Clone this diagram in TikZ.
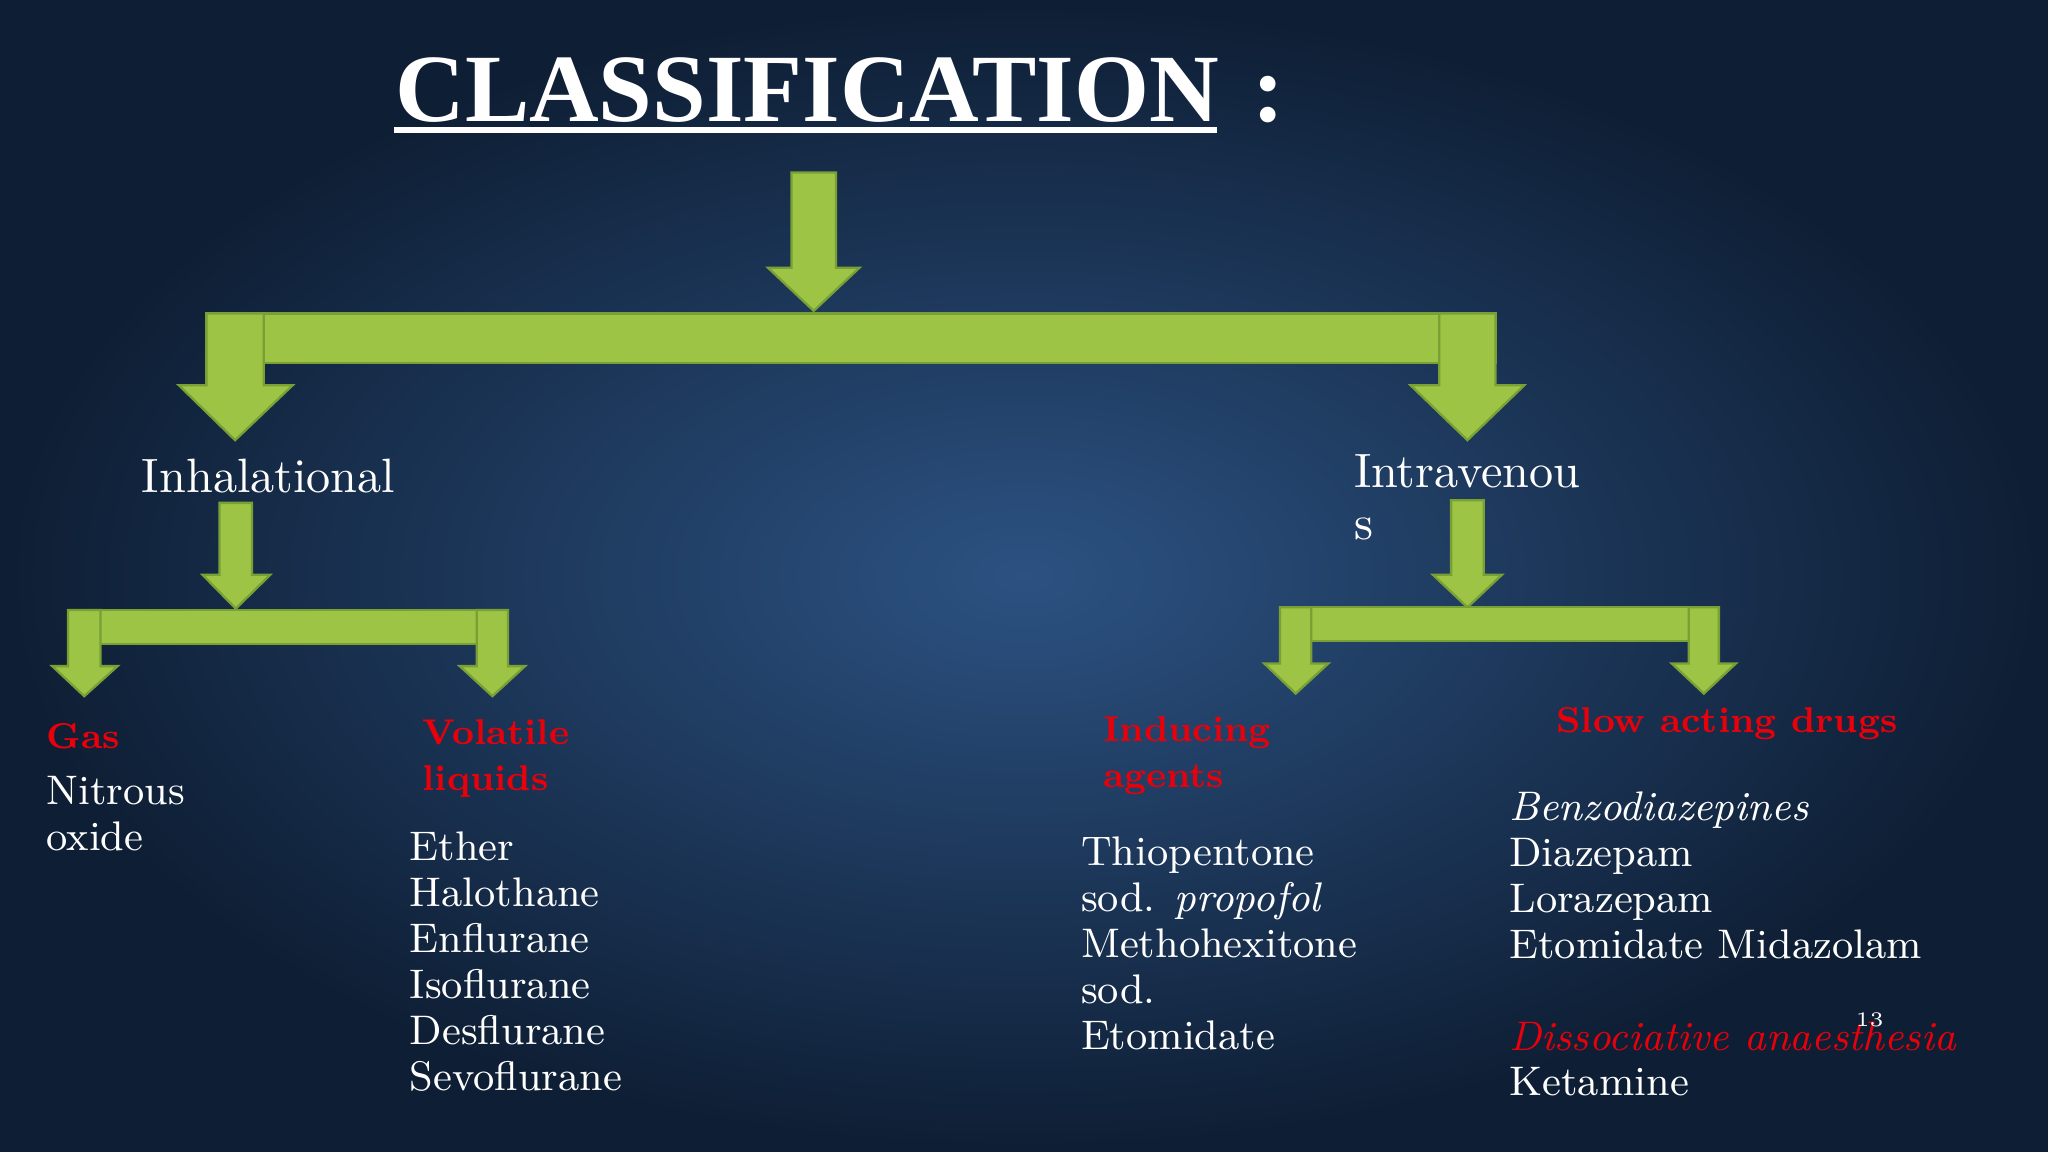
\documentclass[tikz,border=0pt]{standalone}
\usepackage{fontspec}
\newfontfamily\titlefont{Liberation Serif}
\definecolor{grn}{HTML}{9DC444}
\definecolor{grnd}{HTML}{78A035}
\definecolor{redt}{HTML}{E8000A}
\definecolor{bgin}{HTML}{2C5282}
\definecolor{bgout}{HTML}{0E1E34}
\newcommand\ml[1]{\parbox[t]{6cm}{\raggedright #1}}
\tikzset{arr/.style={fill=grn,draw=grnd,line width=0.5pt,line join=miter},
 txt/.style={anchor=base west,text=white,font=\fontsize{9}{10}\selectfont,inner sep=0pt},
 hd/.style={txt,text=redt,font=\fontsize{7.8}{10}\selectfont\bfseries}}
\newcommand\darr[7]{\draw[arr] (#1,#3) -- (#2,#3) -- (#2,#4) -- (#6,#4) -- ({(#1+#2)/2},#7) -- (#5,#4) -- (#1,#4) -- cycle;}
\begin{document}
\begin{tikzpicture}[x=0.01cm,y=-0.01cm]
\shade[inner color=bgin,outer color=bgout] (0,0) rectangle (1568,882);
\useasboundingbox (0,0) rectangle (1568,882);
\node[anchor=base west,inner sep=0pt,text=white,font=\titlefont\bfseries\fontsize{21}{22}\selectfont] (title) at (302,93) {CLASSIFICATION};
\node[anchor=base west,inner sep=0pt,text=white,font=\titlefont\bfseries\fontsize{21}{22}\selectfont] (colon) at (958,93) {:};
\fill[white] (302,97) rectangle (932,102);
% top arrows
\darr{606}{640}{132}{205}{588}{658}{238}
\draw[arr] (158,240) rectangle (1145,278);
\darr{158}{202}{240}{295}{137}{224}{337}
\darr{1102}{1145}{240}{295}{1080}{1167}{337}
% left
\node[txt,font=\fontsize{10.5}{12}\selectfont] (inh) at (108,377) {Inhalational};
\darr{168}{193}{385}{440}{155}{207}{466}
\draw[arr] (52,467) rectangle (389,493);
\darr{52}{77}{467}{510}{40}{90}{533}
\darr{365}{389}{467}{510}{352}{402}{533}
% right
\node[txt,font=\fontsize{10.5}{12}\selectfont] (iv1) at (1036,373) {Intravenou};
\node[txt,font=\fontsize{10.5}{12}\selectfont] (iv2) at (1036,413) {s};
\darr{1111}{1136}{383}{440}{1097}{1150}{465}
\draw[arr] (980,465) rectangle (1316,491);
\darr{980}{1004}{465}{508}{968}{1017}{531}
\darr{1293}{1316}{465}{508}{1280}{1329}{531}
% texts
\node[hd] (gas) at (35,573) {Gas};
\node[txt] (no) at (35,616) {\ml{Nitrous\\oxide}};
\node[hd] (vol) at (323,570) {\ml{Volatile\\liquids}};
\node[txt] (vl) at (313,659) {\ml{Ether\\Halothane\\Enflurane\\Isoflurane\\Desflurane\\Sevoflurane}};
\node[hd] (ind) at (844,568) {\ml{Inducing\\agents}};
\node[txt] (il) at (827,663) {\ml{Thiopentone\\sod. \textit{propofol}\\Methohexitone\\sod.\\Etomidate}};
\node[hd] (slow) at (1191,561) {Slow acting drugs};
\node[txt] (sl) at (1155,628) {\ml{\textit{Benzodiazepines}\\Diazepam\\Lorazepam\\Etomidate Midazolam}};
\node[txt,text=redt] (dis) at (1155,804) {\textit{Dissociative anaesthesia}};
\node[txt] (ket) at (1155,839) {Ketamine};
\node[txt,font=\fontsize{4.5}{5}\selectfont] (pg) at (1420,786) {13};
\end{tikzpicture}
\end{document}
